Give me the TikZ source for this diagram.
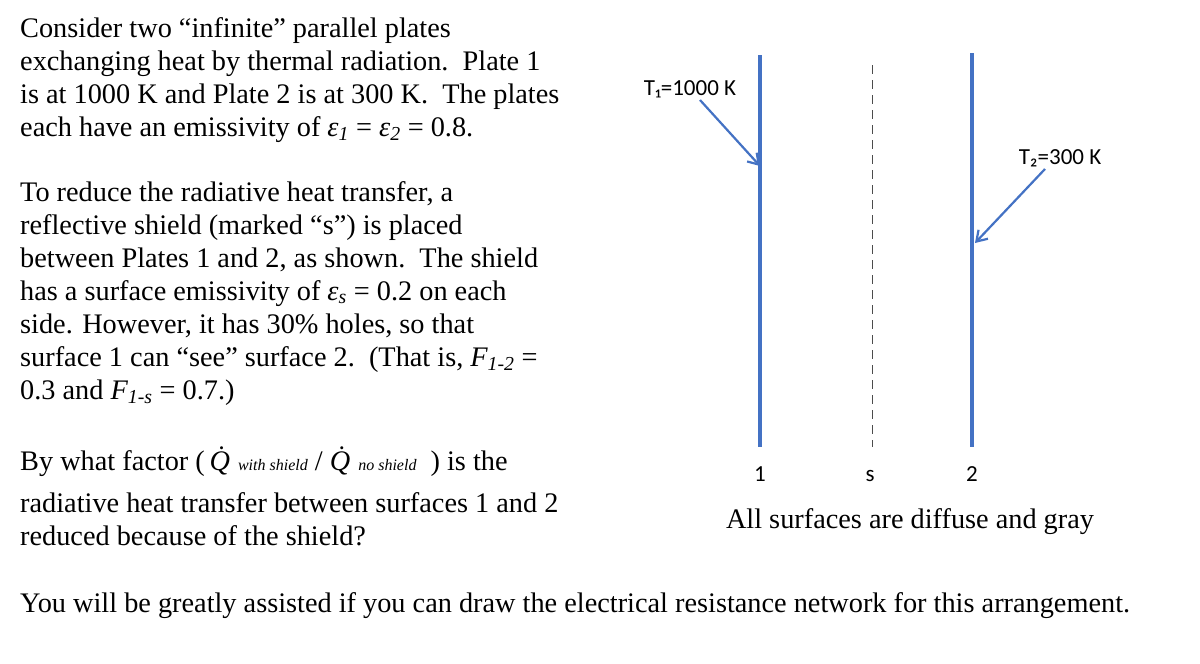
\documentclass[tikz,border=0pt]{standalone}
\usepackage{fontspec}
\usetikzlibrary{arrows.meta}
\setmainfont{Liberation Serif}
\newfontfamily\lab{Carlito}
\begin{document}
\begin{tikzpicture}[x=1pt,y=-1pt,
  txt/.style={anchor=base west,inner sep=0pt,font=\fontsize{28.3}{32}\selectfont},
  lbl/.style={anchor=base,inner sep=0pt,font=\lab\fontsize{23}{26}\selectfont},
  plate/.style={draw=plateblue,line width=4.5pt},
  ptr/.style={draw=plateblue,line width=2.2pt,-{Straight Barb[length=10pt,width=13pt]}}]
\definecolor{plateblue}{RGB}{68,114,196}
\useasboundingbox (0,0) rectangle (1200,664);
\fill[white] (0,0) rectangle (1200,664);
\node[txt] (l1) at (20,37) {Consider two “infinite” parallel plates};
\node[txt] (l2) at (20,70) {exchanging heat by thermal radiation.\ \ Plate 1};
\node[txt] (l3) at (20,103) {is at 1000 K and Plate 2 is at 300 K.\ \ The plates};
\node[txt] (l4) at (20,136) {each have an emissivity of \textit{ε\textsubscript{1}} = \textit{ε\textsubscript{2}} = 0.8.};
\node[txt] (m1) at (20,201) {To reduce the radiative heat transfer, a};
\node[txt] (m2) at (20,234) {reflective shield (marked “s”) is placed};
\node[txt] (m3) at (20,267) {between Plates 1 and 2, as shown.\ \ The shield};
\node[txt] (m4) at (20,300) {has a surface emissivity of \textit{ε\textsubscript{s}} = 0.2 on each};
\node[txt] (m5) at (20,333) {side. However, it has 30\% holes, so that};
\node[txt] (m6) at (20,366) {surface 1 can “see” surface 2.\ \ (That is, \textit{F\textsubscript{1-2}} =};
\node[txt] (m7) at (20,399) {0.3 and \textit{F\textsubscript{1-s}} = 0.7.)};
\node[txt] (b1) at (20,470) {By what factor (\,\textit{Q̇}{\fontsize{16}{16}\selectfont\itshape with shield} / \textit{Q̇}{\fontsize{16}{16}\selectfont\itshape no shield}\ \ ) is the};
\node[txt] (b2) at (20,512) {radiative heat transfer between surfaces 1 and 2};
\node[txt] (b3) at (20,545) {reduced because of the shield?};
\node[txt] (b4) at (20,612) {You will be greatly assisted if you can draw the electrical resistance network for this arrangement.};
\coordinate (p1t) at (760,55); \coordinate (p1b) at (760,447);
\coordinate (p2t) at (972,53); \coordinate (p2b) at (972,447);
\coordinate (st) at (872,65); \coordinate (sb) at (872,447);
\draw[plate] (p1t) -- (p1b);
\draw[plate] (p2t) -- (p2b);
\draw[black!70,line width=0.8pt,dash pattern=on 9pt off 6pt] (st) -- (sb);
\node[lbl] (n1) at (760,481) {1};
\node[lbl] (ns) at (870,481) {s};
\node[lbl] (n2) at (972,481) {2};
\node[lbl] (t1) at (690,95) {T₁=1000 K};
\node[lbl] (t2) at (1060,164) {T₂=300 K};
\coordinate (a1) at (760,166);
\coordinate (a2) at (975,243);
\coordinate (s1) at (700,100);
\coordinate (s2) at (1045,169);
\draw[ptr] (s1) -- (a1);
\draw[ptr] (s2) -- (a2);
\node[txt,anchor=base] (all) at (910,528) {All surfaces are diffuse and gray};
\end{tikzpicture}
\end{document}
